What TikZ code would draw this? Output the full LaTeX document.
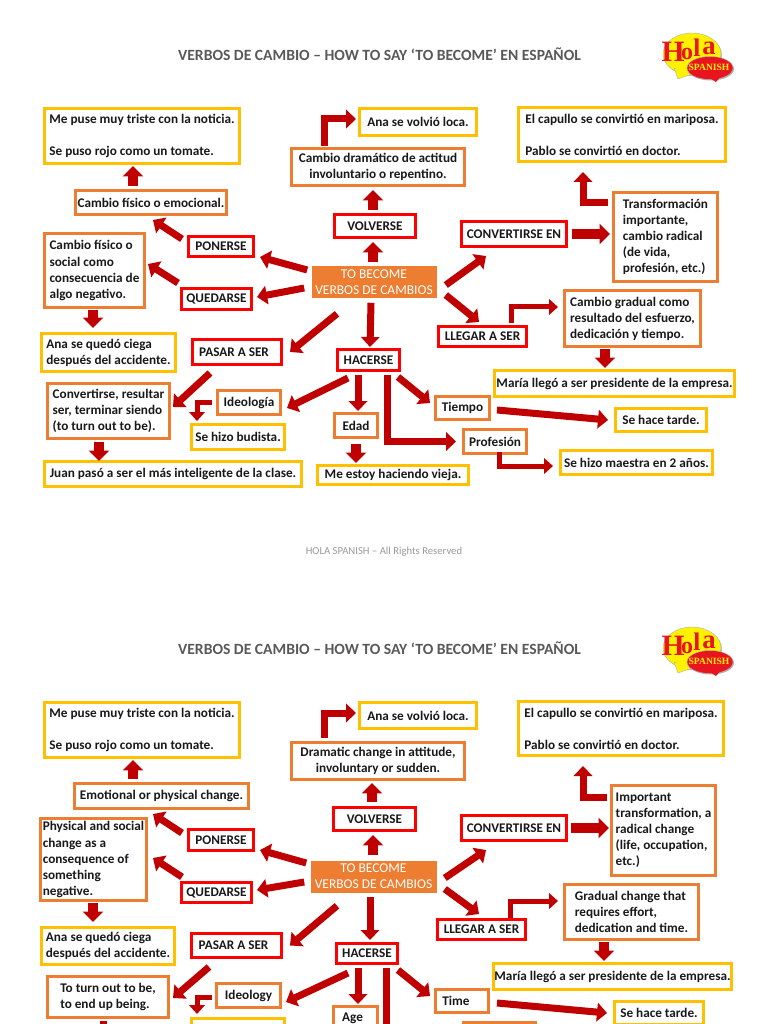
\documentclass[tikz,border=0pt]{standalone}
\usepackage{fontspec}
\setmainfont{Carlito}
\newfontfamily\logofont{Liberation Serif}
\usetikzlibrary{arrows.meta}
\definecolor{boxyellow}{HTML}{FFC000}
\definecolor{boxorange}{HTML}{ED7D31}
\definecolor{boxred}{HTML}{FF0000}
\definecolor{arrowred}{HTML}{C00000}
\definecolor{titlegray}{HTML}{595959}
\definecolor{logored}{HTML}{E8141E}
\definecolor{logoyellow}{HTML}{FFF200}
\tikzset{
	wh/.style 2 args={minimum width=(#1-3)*.25mm,minimum height=(#2-3)*.25mm},
	basebox/.style={draw,line width=.75mm,fill=white,inner sep=0pt,align=left,text=black!90,
		font=\fontsize{9.4}{11.4}\selectfont\bfseries},
	ybox/.style={basebox,draw=boxyellow},
	obox/.style={basebox,draw=boxorange},
	rbox/.style={basebox,draw=boxred},
	mainbox/.style={fill=boxorange,inner sep=0pt,align=center,text=white,
		font=\fontsize{9.6}{11.6}\selectfont},
	blockarrow/.style={draw=arrowred,line width=1.75mm,-{Triangle[length=2.5mm,width=4.6mm]}},
	fatarrow/.style={draw=arrowred,line width=2.4mm,-{Triangle[length=2.6mm,width=5mm]}},
	thinarrow/.style={draw=arrowred,line width=1.25mm,-{Triangle[length=2.2mm,width=3.8mm]}},
	holaletter/.style={text=logored,inner sep=0pt,draw=logored,line width=.1mm},
	holalogo/.pic={
		\fill[gray!50] (693,55) ellipse [x radius=29,y radius=21];
		\fill[gray!60] (711,69) ellipse [x radius=23,y radius=11.5];
		\filldraw[draw=gray!60,fill=logoyellow,line width=.1mm] (692,54) ellipse [x radius=29,y radius=21];
		\filldraw[draw=gray!60,fill=logoyellow,line width=.1mm] (674,68)--(678,79)--(692,74)--cycle;
		\fill[logoyellow] (675,65)--(679,76)--(692,71)--cycle;
		\filldraw[draw=gray!60,fill=logored,line width=.1mm] (710,68) ellipse [x radius=23,y radius=11.5];
		\fill[logored] (708,77)--(716,82)--(722,75)--cycle;
		\node[text=logored,inner sep=0pt,font=\logofont\fontsize{21}{21}\selectfont\bfseries] (-h) at (673,52) {H};
		\node[text=logored,inner sep=0pt,font=\logofont\fontsize{17}{17}\selectfont\bfseries] (-o) at (687,54) {o};
		\node[text=logored,inner sep=0pt,font=\logofont\fontsize{18}{18}\selectfont\bfseries] (-l) at (697,48) {l};
		\node[text=logored,inner sep=0pt,font=\logofont\fontsize{19}{19}\selectfont\bfseries] (-a) at (709,48) {a};
		\node[text=logoyellow,inner sep=0pt,font=\logofont\fontsize{6.8}{7}\selectfont\bfseries] (-s) at (709,67) {SPANISH};
	},
	pagetitle/.style={text=titlegray,inner sep=0pt,font=\fontsize{11.1}{12}\selectfont\bfseries}
}
\begin{document}
\begin{tikzpicture}[x=.25mm,y=-.25mm,line join=miter]
	\useasboundingbox (0,0) rectangle (768,1024);
	\clip (0,0) rectangle (768,1024);
	% first sheet
	\node[pagetitle] (title) at (379.5,54) {VERBOS DE CAMBIO – HOW TO SAY ‘TO BECOME’ EN ESPAÑOL};
	\pic (logo) at (0,0) {holalogo};
	\node[text=gray!80,inner sep=0pt,font=\fontsize{7.6}{8}\selectfont] (footer) at (384,552) {HOLA SPANISH – All Rights Reserved};
	\node[ybox,wh={198}{58}] (yemo) at (142,136) {Me puse muy triste con la noticia.\\[\baselineskip]Se puso rojo como un tomate.};
	\node[obox,wh={154}{27}] (cfisico) at (151,202.5) {Cambio físico o emocional.};
	\node[obox,wh={103}{77}] (csocial) at (94.5,270.5) {Cambio físico o\\social como\\consecuencia de\\algo negativo.};
	\node[rbox,wh={68}{23}] (ponerse) at (221,246.5) {PONERSE};
	\node[rbox,wh={73}{24}] (quedarse) at (216.5,299) {QUEDARSE};
	\node[mainbox,wh={128}{35}] (center) at (374,282.5) {TO BECOME\\VERBOS DE CAMBIOS};
	\node[rbox,wh={84}{26}] (volverse) at (375,226) {VOLVERSE};
	\node[obox,align=center,wh={176}{40}] (cdrama) at (378,167) {Cambio dramático de actitud\\involuntario o repentino.};
	\node[ybox,wh={120}{30}] (yloca) at (418,122) {Ana se volvió loca.};
	\node[ybox,wh={210}{57}] (ycapullo) at (622,134.5) {El capullo se convirtió en mariposa.\\[\baselineskip]Pablo se convirtió en doctor.};
	\node[obox,wh={107}{92}] (ctrans) at (665.5,237) {Transformación\\importante,\\cambio radical\\(de vida,\\profesión, etc.)};
	\node[rbox,wh={108}{28}] (convertir) at (514,234) {CONVERTIRSE EN};
	\node[obox,wh={139}{59}] (cgradual) at (632.5,318.5) {Cambio gradual como\\resultado del esfuerzo,\\dedicación y tiempo.};
	\node[rbox,wh={91}{23}] (llegar) at (482.5,336.5) {LLEGAR A SER};
	\node[ybox,wh={243}{29}] (ymaria) at (614.5,383.5) {María llegó a ser presidente de la empresa.};
	\node[rbox,wh={65}{24}] (hacerse) at (368.5,360) {HACERSE};
	\node[obox,wh={57}{26}] (ctiempo) at (462.5,408) {Tiempo};
	\node[obox,wh={66}{27}] (cprofesion) at (495,441.5) {Profesión};
	\node[ybox,wh={94}{26}] (ytarde) at (661,420) {Se hace tarde.};
	\node[ybox,wh={155}{27}] (ymaestra) at (636.5,462.5) {Se hizo maestra en 2 años.};
	\node[ybox,wh={154}{22}] (yvieja) at (393,475) {Me estoy haciendo vieja.};
	\node[obox,wh={46}{27}] (cedad) at (356,425.5) {Edad};
	\node[obox,wh={66}{27}] (cideologia) at (249,402.5) {Ideología};
	\node[ybox,wh={96}{28}] (ybudista) at (238,437) {Se hizo budista.};
	\node[rbox,wh={92}{28}] (pasar) at (237,352) {PASAR A SER\hspace*{1.5mm}};
	\node[ybox,wh={137}{41}] (yciega) at (108.5,352.5) {Ana se quedó ciega\\después del accidente.};
	\node[obox,wh={125}{58}] (cturn) at (108.5,411) {Convertirse, resultar\\ser, terminar siendo\\(to turn out to be).};
	\node[ybox,wh={260}{28}] (yjuan) at (173,474) {Juan pasó a ser el más inteligente de la clase.};
	\draw[fatarrow] ([shift={(-18,-3)}]cfisico.north)--([shift={(-9,1)}]yemo.south);
	\draw[blockarrow] ([shift={(-5,-7.5)}]ponerse.west)--([shift={(2,4)}]cfisico.south);
	\draw[blockarrow] ([shift={(-4,-12.5)}]center.west)--([shift={(5,10.5)}]ponerse.east);
	\draw[blockarrow] ([shift={(-7,5.5)}]center.west)--([shift={(4,-2)}]quedarse.east);
	\draw[blockarrow] ([shift={(-38.5,-4)}]quedarse.north)--([shift={(2,-6.5)}]csocial.east);
	\draw[fatarrow] ([shift={(-1.5,1)}]csocial.south)--([shift={(-15.5,-4)}]yciega.north);
	\draw[blockarrow] ([shift={(-37,15)}]center.south)--([shift={(7,0)}]pasar.east);
	\draw[blockarrow] ([shift={(-3,4)}]center.south)--([shift={(1.5,-1)}]hacerse.north);
	\draw[fatarrow] ([shift={(-1,-4)}]center.north)--([shift={(-2,3)}]volverse.south);
	\draw[fatarrow] ([shift={(-2,-3)}]volverse.north)--([shift={(-5,3)}]cdrama.south);
	\draw[blockarrow] ([shift={(-54,-1)}]cdrama.north)|-([shift={(-2,-3)}]yloca.west);
	\draw[blockarrow] ([shift={(9,2.5)}]center.east)--([shift={(-28,8)}]convertir.south);
	\draw[blockarrow] ([shift={(9,12.5)}]center.east)--([shift={(-3.5,-3)}]llegar.north);
	\draw[fatarrow] ([shift={(4,0)}]convertir.east)--([shift={(-2,-3)}]ctrans.west);
	\draw[blockarrow] ([shift={(-4,-34)}]ctrans.west)-|([shift={(-39,9)}]ycapullo.south);
	\draw[thinarrow] ([shift={(28.5,-2)}]llegar.north)|-([shift={(-5,-11.5)}]cgradual.west);
	\draw[fatarrow] ([shift={(-27.5,1)}]cgradual.south)--([shift={(-9.5,-1)}]ymaria.north);
	\draw[blockarrow] ([shift={(29.5,5)}]hacerse.south)--([shift={(-4,-5)}]ctiempo.west);
	\draw[blockarrow] ([shift={(18.5,3)}]hacerse.south)|-([shift={(-6,0)}]cprofesion.west);
	\draw[blockarrow] ([shift={(-10.5,3)}]hacerse.south)--([shift={(2,-1)}]cedad.north);
	\draw[blockarrow] ([shift={(-20.5,6)}]hacerse.south)--([shift={(5,5.5)}]cideologia.east);
	\draw[thinarrow] ([shift={(-4,0)}]cideologia.west)-|([shift={(-41,-2)}]ybudista.north);
	\draw[fatarrow] ([shift={(0,5)}]cedad.south)--([shift={(-37,-1)}]yvieja.north);
	\draw[blockarrow] ([shift={(-27,7)}]pasar.south)--([shift={(2,-4)}]cturn.east);
	\draw[fatarrow] ([shift={(-9.5,2)}]cturn.south)--([shift={(-74,1)}]yjuan.north);
	\draw[blockarrow] ([shift={(6,2)}]ctiempo.east)--([shift={(-6,0)}]ytarde.west);
	\draw[thinarrow] ([shift={(4,-3)}]cprofesion.south)|-([shift={(-6,3.5)}]ymaestra.west);
	% second sheet
	\node[pagetitle] (btitle) at (379.5,648) {VERBOS DE CAMBIO – HOW TO SAY ‘TO BECOME’ EN ESPAÑOL};
	\pic (blogo) at (0,594) {holalogo};
	\node[ybox,wh={198}{58}] (byemo) at (142,730) {Me puse muy triste con la noticia.\\[\baselineskip]Se puso rojo como un tomate.};
	\node[obox,wh={177}{28}] (bcambio) at (161.5,796) {Emotional or physical change.};
	\node[obox,wh={109}{85}] (bsocial) at (93.5,859.5) {Physical and social\\change as a\\consequence of\\something\\negative.};
	\node[rbox,wh={68}{24}] (bponerse) at (221,840) {PONERSE};
	\node[rbox,wh={73}{23}] (bquedarse) at (216.5,892.5) {QUEDARSE};
	\node[mainbox,wh={129}{35}] (bcenter) at (373.5,876.5) {TO BECOME\\VERBOS DE CAMBIOS};
	\node[rbox,wh={85}{26}] (bvolverse) at (374.5,819) {VOLVERSE};
	\node[obox,align=center,wh={176}{40}] (bdrama) at (378,761) {Dramatic change in attitude,\\involuntary or sudden.};
	\node[ybox,wh={120}{29}] (byloca) at (418,715.5) {Ana se volvió loca.};
	\node[ybox,wh={208}{57}] (bycapullo) at (621,728.5) {El capullo se convirtió en mariposa.\\[\baselineskip]Pablo se convirtió en doctor.};
	\node[obox,wh={107}{93}] (btrans) at (663.5,830.5) {Important\\transformation, a\\radical change\\(life, occupation,\\etc.)};
	\node[rbox,wh={108}{28}] (bconvertir) at (514,828) {CONVERTIRSE EN};
	\node[obox,wh={137}{58}] (bgradual) at (631.5,912) {Gradual change that\\requires effort,\\dedication and time.};
	\node[rbox,wh={91}{23}] (bllegar) at (481.5,929.5) {LLEGAR A SER};
	\node[ybox,wh={241}{29}] (bymaria) at (612.5,976.5) {María llegó a ser presidente de la empresa.};
	\node[ybox,wh={136}{40}] (byciega) at (108,946) {Ana se quedó ciega\\después del accidente.};
	\node[rbox,wh={93}{27}] (bpasar) at (236.5,945.5) {PASAR A SER\hspace*{1.5mm}};
	\node[rbox,wh={64}{23}] (bhacerse) at (367,953.5) {HACERSE};
	\node[obox,wh={124}{44}] (bturn) at (108,997) {To turn out to be,\\to end up being.};
	\node[obox,wh={67}{27}] (bideologia) at (248.5,995.5) {Ideology};
	\node[ybox,wh={96}{28}] (bybudista) at (238,1031) {};
	\node[obox,wh={56}{26}] (btiempo) at (462,1001) {Time\hspace*{3mm}};
	\node[ybox,wh={92}{26}] (bytarde) at (659,1013) {Se hace tarde.};
	\node[obox,wh={47}{27}] (bedad) at (355.5,1018.5) {\raisebox{-.5mm}{Age}\hspace*{1.5mm}};
	\node[obox,wh={75}{29}] (bprofesion) at (499.5,1035.5) {};
	\coordinate (bjuan) at (103,1040);
	\draw[fatarrow] ([shift={(-28.5,-3)}]bcambio.north)--([shift={(-9,1)}]byemo.south);
	\draw[blockarrow] ([shift={(-5,-7)}]bponerse.west)--([shift={(-8.5,4)}]bcambio.south);
	\draw[blockarrow] ([shift={(-4,-13.5)}]bcenter.west)--([shift={(5,10)}]bponerse.east);
	\draw[blockarrow] ([shift={(-6,5.5)}]bcenter.west)--([shift={(4,-2.5)}]bquedarse.east);
	\draw[blockarrow] ([shift={(-34.5,-4)}]bquedarse.north)--([shift={(5,-1.5)}]bsocial.east);
	\draw[fatarrow] ([shift={(-.5,1)}]bsocial.south)--([shift={(-15,-4)}]byciega.north);
	\draw[blockarrow] ([shift={(-36.5,13)}]bcenter.south)--([shift={(7,0)}]bpasar.east);
	\draw[blockarrow] ([shift={(-3.5,4)}]bcenter.south)--([shift={(3,-2)}]bhacerse.north);
	\draw[fatarrow] ([shift={(-.5,-5)}]bcenter.north)--([shift={(-1.5,3)}]bvolverse.south);
	\draw[fatarrow] ([shift={(-2.5,-4)}]bvolverse.north)--([shift={(-6,2)}]bdrama.south);
	\draw[blockarrow] ([shift={(-54,-3)}]bdrama.north)|-([shift={(-2,-2.5)}]byloca.west);
	\draw[blockarrow] ([shift={(8,1.5)}]bcenter.east)--([shift={(-28,8)}]bconvertir.south);
	\draw[blockarrow] ([shift={(8,12.5)}]bcenter.east)--([shift={(-2.5,-4)}]bllegar.north);
	\draw[fatarrow] ([shift={(3,0)}]bconvertir.east)--([shift={(-1,-2.5)}]btrans.west);
	\draw[blockarrow] ([shift={(-3,-33.5)}]btrans.west)-|([shift={(-38,9)}]bycapullo.south);
	\draw[thinarrow] ([shift={(28.5,0)}]bllegar.north)|-([shift={(-5,-11)}]bgradual.west);
	\draw[fatarrow] ([shift={(-27.5,1)}]bgradual.south)--([shift={(-8.5,-1)}]bymaria.north);
	\draw[blockarrow] ([shift={(31,5)}]bhacerse.south)--([shift={(-4,-5)}]btiempo.west);
	\draw[blockarrow] ([shift={(19,3)}]bhacerse.south)|-([shift={(-6,0)}]bprofesion.west);
	\draw[blockarrow] ([shift={(-9,3)}]bhacerse.south)--([shift={(2.5,-1)}]bedad.north);
	\draw[blockarrow] ([shift={(-19,8)}]bhacerse.south)--([shift={(4,6.5)}]bideologia.east);
	\draw[thinarrow] ([shift={(-3,1.5)}]bideologia.west)-|([shift={(-41,-3)}]bybudista.north);
	\draw[blockarrow] ([shift={(-27.5,8)}]bpasar.south)--([shift={(3,1)}]bturn.east);
	\draw[blockarrow] ([shift={(-5,2)}]bturn.south)--(bjuan);
	\draw[blockarrow] ([shift={(7,2)}]btiempo.east)--([shift={(-6,0)}]bytarde.west);
\end{tikzpicture}
\end{document}
